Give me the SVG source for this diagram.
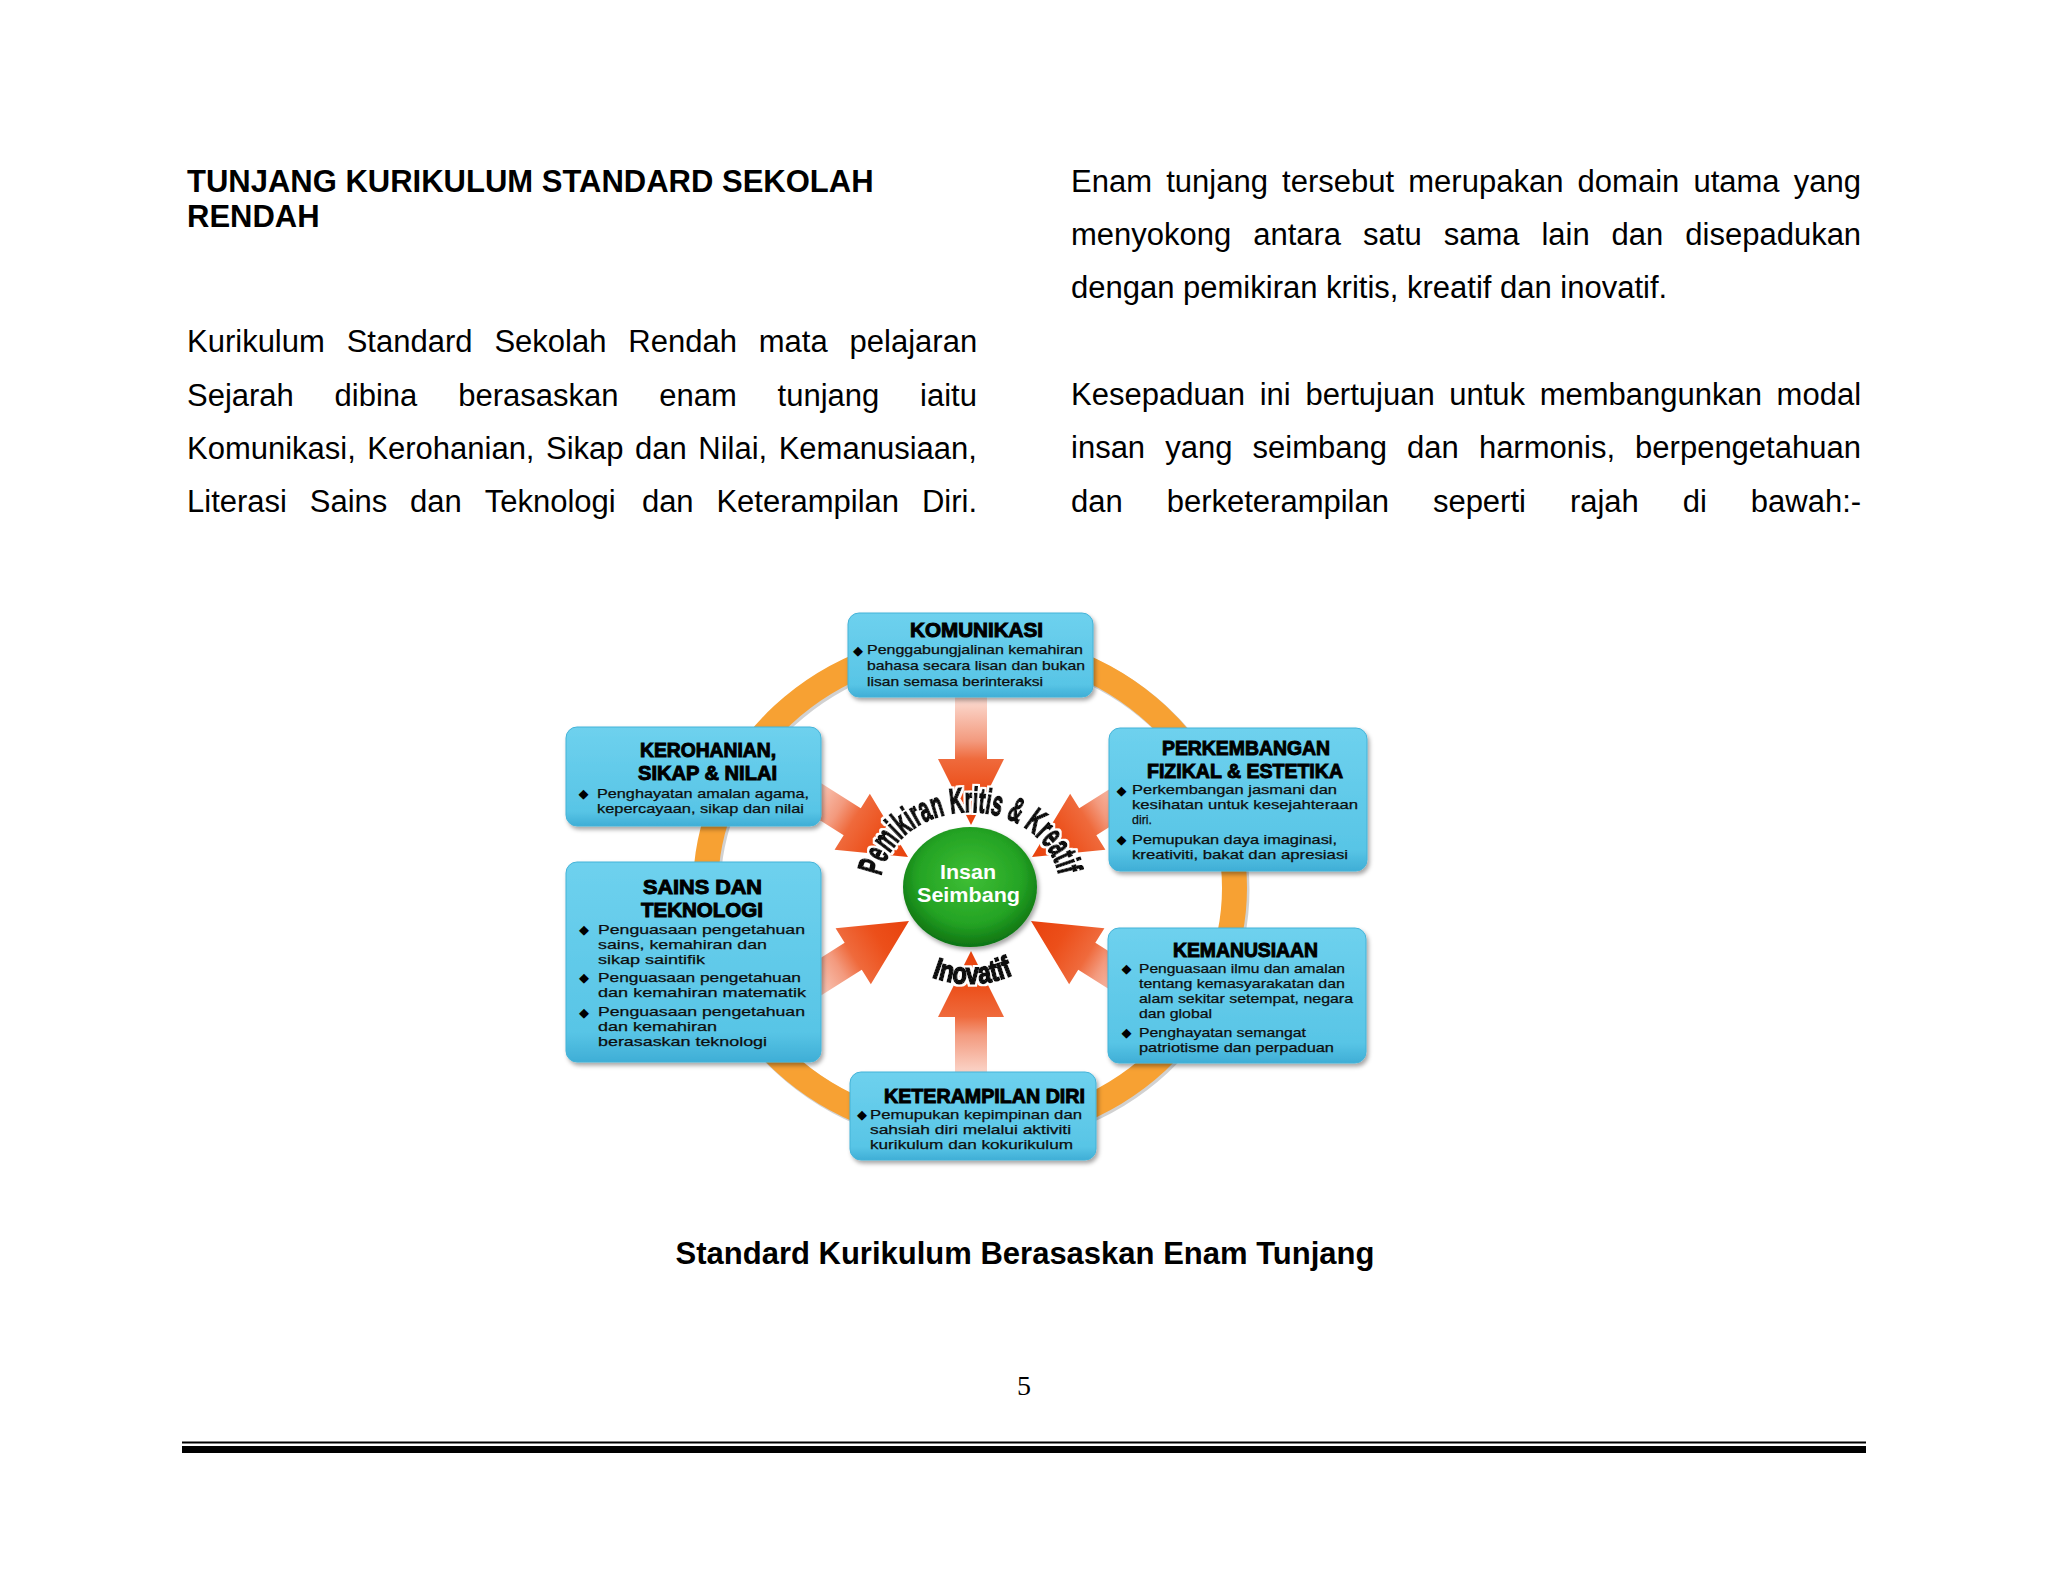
<svg xmlns="http://www.w3.org/2000/svg" xmlns:xlink="http://www.w3.org/1999/xlink" width="2048" height="1582" viewBox="0 0 2048 1582">
<defs>
<style>
.body{font-family:'Liberation Sans',Arial,sans-serif;font-size:31px;fill:#000}
.bold{font-weight:bold}
.bt{font-family:'Liberation Sans',Arial,sans-serif;font-size:13px;fill:#0d0d0d;stroke:#0d0d0d;stroke-width:0.25px}
.tt{font-family:'Liberation Sans',Arial,sans-serif;font-weight:bold;font-size:20.5px;fill:#000;stroke:#000;stroke-width:1px;text-anchor:middle}
.bl{font-family:'DejaVu Sans',sans-serif;font-size:13px;fill:#000}
.box{fill:url(#boxg);stroke:#45b3d8;stroke-width:1;filter:url(#sh)}
.arrow{fill:url(#arrg)}
.arc{font-family:'Liberation Sans',Arial,sans-serif;font-weight:bold;fill:#111;stroke:#111;stroke-width:1.8px;filter:url(#halo)}
.ins{font-family:'Liberation Sans',Arial,sans-serif;font-weight:bold;font-size:20px;fill:#fff;text-anchor:middle}
</style>
<linearGradient id="boxg" x1="0" y1="0" x2="0" y2="1">
<stop offset="0" stop-color="#6ed1ee"/>
<stop offset="0.85" stop-color="#58c5e6"/>
<stop offset="1" stop-color="#3faed6"/>
</linearGradient>
<linearGradient id="arrg" gradientUnits="userSpaceOnUse" x1="-140" y1="0" x2="0" y2="0">
<stop offset="0" stop-color="#fde8e2"/>
<stop offset="0.15" stop-color="#fad0c3"/>
<stop offset="0.4" stop-color="#f39a7e"/>
<stop offset="0.53" stop-color="#ef6a3c"/>
<stop offset="0.75" stop-color="#ec4f1a"/>
<stop offset="1" stop-color="#e8420d"/>
</linearGradient>
<radialGradient id="greeng" cx="0.5" cy="0.42" r="0.6">
<stop offset="0" stop-color="#3fbf35"/>
<stop offset="0.65" stop-color="#24a324"/>
<stop offset="1" stop-color="#0c6e10"/>
</radialGradient>
<filter id="sh" x="-10%" y="-10%" width="125%" height="130%">
<feDropShadow dx="2" dy="3" stdDeviation="2" flood-color="#000" flood-opacity="0.35"/>
</filter>
<filter id="halo" x="-10%" y="-10%" width="120%" height="120%">
<feMorphology in="SourceAlpha" operator="dilate" radius="1.5" result="d"/>
<feFlood flood-color="#fff"/>
<feComposite in2="d" operator="in" result="w"/>
<feMerge><feMergeNode in="w"/><feMergeNode in="SourceGraphic"/></feMerge>
</filter>
<path id="arrowShape" d="M0,0 L-66,-33 L-66,-16 L-140,-16 L-140,16 L-66,16 L-66,33 Z"/>
<path id="arcTop" d="M880,888 A90,76 0 0 1 1060,888"/>
<path id="arcBot" d="M868,888 A102,96 0 0 0 1072,888"/>
</defs>
<rect width="2048" height="1582" fill="#fff"/>

<g id="heading">
<text class="body bold" x="187" y="192">TUNJANG KURIKULUM STANDARD SEKOLAH</text>
<text class="body bold" x="187" y="227">RENDAH</text>
</g>

<g id="left-paragraph" class="body">
<text y="352"><tspan x="187">Kurikulum </tspan><tspan x="346.7">Standard </tspan><tspan x="494.4">Sekolah </tspan><tspan x="628.3">Rendah </tspan><tspan x="758.8">mata </tspan><tspan x="849.6">pelajaran</tspan></text>
<text y="405.5"><tspan x="187">Sejarah </tspan><tspan x="334.6">dibina </tspan><tspan x="458.2">berasaskan </tspan><tspan x="659.2">enam </tspan><tspan x="777.6">tunjang </tspan><tspan x="920.1">iaitu</tspan></text>
<text y="458.8"><tspan x="187">Komunikasi, </tspan><tspan x="367.3">Kerohanian, </tspan><tspan x="546">Sikap </tspan><tspan x="635.1">dan </tspan><tspan x="698.3">Nilai, </tspan><tspan x="778.7">Kemanusiaan,</tspan></text>
<text y="512"><tspan x="187">Literasi </tspan><tspan x="309.8">Sains </tspan><tspan x="410.1">dan </tspan><tspan x="484.7">Teknologi </tspan><tspan x="641.9">dan </tspan><tspan x="716.4">Keterampilan </tspan><tspan x="921.9">Diri.</tspan></text>
</g>

<g id="right-paragraph" class="body">
<text y="192"><tspan x="1071">Enam </tspan><tspan x="1166.2">tunjang </tspan><tspan x="1282.1">tersebut </tspan><tspan x="1408.3">merupakan </tspan><tspan x="1577.6">domain </tspan><tspan x="1693.4">utama </tspan><tspan x="1793.7">yang</tspan></text>
<text y="245"><tspan x="1071">menyokong </tspan><tspan x="1253.2">antara </tspan><tspan x="1363.1">satu </tspan><tspan x="1443.7">sama </tspan><tspan x="1541.4">lain </tspan><tspan x="1611.6">dan </tspan><tspan x="1685.3">disepadukan</tspan></text>
<text x="1071" y="298">dengan pemikiran kritis, kreatif dan inovatif.</text>
<text y="405"><tspan x="1071">Kesepaduan </tspan><tspan x="1259.7">ini </tspan><tspan x="1305.4">bertujuan </tspan><tspan x="1449.2">untuk </tspan><tspan x="1539.7">membangunkan </tspan><tspan x="1776.6">modal</tspan></text>
<text y="458"><tspan x="1071">insan </tspan><tspan x="1165.2">yang </tspan><tspan x="1252.5">seimbang </tspan><tspan x="1407.1">dan </tspan><tspan x="1478.9">harmonis, </tspan><tspan x="1635.1">berpengetahuan</tspan></text>
<text y="512"><tspan x="1071">dan </tspan><tspan x="1166.7">berketerampilan </tspan><tspan x="1432.9">seperti </tspan><tspan x="1569.9">rajah </tspan><tspan x="1682.7">di </tspan><tspan x="1750.8">bawah:-</tspan></text>
</g>

<g id="ring">
<ellipse cx="972" cy="890" rx="264.5" ry="245" fill="none" stroke="#000" stroke-opacity="0.18" stroke-width="26"/>
<ellipse cx="970" cy="888" rx="264.5" ry="245" fill="none" stroke="#f7a133" stroke-width="25"/>
</g>

<g id="connectors">
<use href="#arrowShape" class="arrow" transform="translate(971,825) rotate(90)"/>
<use href="#arrowShape" class="arrow" transform="translate(971,951) rotate(-90)"/>
<use href="#arrowShape" class="arrow" transform="translate(908,857) rotate(32.3)"/>
<use href="#arrowShape" class="arrow" transform="translate(1032,857) rotate(147.7)"/>
<use href="#arrowShape" class="arrow" transform="translate(909,921) rotate(-32.3)"/>
<use href="#arrowShape" class="arrow" transform="translate(1031,921) rotate(-147.7)"/>
</g>

<g id="komunikasi">
<rect class="box" x="848" y="613" width="245" height="84" rx="11"/>
<text class="tt" x="976.5" y="637" font-size="23" textLength="133" lengthAdjust="spacingAndGlyphs">KOMUNIKASI</text>
<text class="bl" x="853" y="654.5">◆</text>
<text class="bt" x="867" y="654" textLength="216" lengthAdjust="spacingAndGlyphs">Penggabungjalinan kemahiran</text>
<text class="bt" x="867" y="670" textLength="218" lengthAdjust="spacingAndGlyphs">bahasa secara lisan dan bukan</text>
<text class="bt" x="867" y="686" textLength="176" lengthAdjust="spacingAndGlyphs">lisan semasa berinteraksi</text>
</g>

<g id="kerohanian">
<rect class="box" x="566" y="727" width="255" height="99" rx="11"/>
<text class="tt" x="708" y="757" textLength="136" lengthAdjust="spacingAndGlyphs">KEROHANIAN,</text>
<text class="tt" x="707.5" y="780" textLength="139" lengthAdjust="spacingAndGlyphs">SIKAP &amp; NILAI</text>
<text class="bl" x="578.5" y="797.5">◆</text>
<text class="bt" x="597" y="798" textLength="212" lengthAdjust="spacingAndGlyphs">Penghayatan amalan agama,</text>
<text class="bt" x="597" y="813" textLength="207" lengthAdjust="spacingAndGlyphs">kepercayaan, sikap dan nilai</text>
</g>

<g id="sains-teknologi">
<rect class="box" x="566" y="862" width="255" height="200" rx="11"/>
<text class="tt" x="702.5" y="894" textLength="119" lengthAdjust="spacingAndGlyphs">SAINS DAN</text>
<text class="tt" x="702" y="917" textLength="122" lengthAdjust="spacingAndGlyphs">TEKNOLOGI</text>
<text class="bl" x="579" y="934">◆</text>
<text class="bt" x="598" y="933.5" textLength="207" lengthAdjust="spacingAndGlyphs">Penguasaan pengetahuan</text>
<text class="bt" x="598" y="948.5" textLength="169" lengthAdjust="spacingAndGlyphs">sains, kemahiran dan</text>
<text class="bt" x="598" y="963.5" textLength="107" lengthAdjust="spacingAndGlyphs">sikap saintifik</text>
<text class="bl" x="579" y="981.5">◆</text>
<text class="bt" x="598" y="982" textLength="203" lengthAdjust="spacingAndGlyphs">Penguasaan pengetahuan</text>
<text class="bt" x="598" y="997" textLength="208" lengthAdjust="spacingAndGlyphs">dan kemahiran matematik</text>
<text class="bl" x="579" y="1016.5">◆</text>
<text class="bt" x="598" y="1016" textLength="207" lengthAdjust="spacingAndGlyphs">Penguasaan pengetahuan</text>
<text class="bt" x="598" y="1031" textLength="119" lengthAdjust="spacingAndGlyphs">dan kemahiran</text>
<text class="bt" x="598" y="1046" textLength="169" lengthAdjust="spacingAndGlyphs">berasaskan teknologi</text>
</g>

<g id="perkembangan">
<rect class="box" x="1109" y="728" width="258" height="143" rx="11"/>
<text class="tt" x="1246" y="755" textLength="168" lengthAdjust="spacingAndGlyphs">PERKEMBANGAN</text>
<text class="tt" x="1245" y="778" textLength="196" lengthAdjust="spacingAndGlyphs">FIZIKAL &amp; ESTETIKA</text>
<text class="bl" x="1116.5" y="794.5">◆</text>
<text class="bt" x="1132" y="794" textLength="205" lengthAdjust="spacingAndGlyphs">Perkembangan jasmani dan</text>
<text class="bt" x="1132" y="809" textLength="226" lengthAdjust="spacingAndGlyphs">kesihatan untuk kesejahteraan</text>
<text class="bt" x="1132" y="824" textLength="20" lengthAdjust="spacingAndGlyphs">diri.</text>
<text class="bl" x="1116.5" y="843.5">◆</text>
<text class="bt" x="1132" y="844" textLength="205" lengthAdjust="spacingAndGlyphs">Pemupukan daya imaginasi,</text>
<text class="bt" x="1132" y="859" textLength="216" lengthAdjust="spacingAndGlyphs">kreativiti, bakat dan apresiasi</text>
</g>

<g id="kemanusiaan">
<rect class="box" x="1108" y="928" width="258" height="135" rx="11"/>
<text class="tt" x="1245.5" y="957" font-size="23" textLength="145" lengthAdjust="spacingAndGlyphs">KEMANUSIAAN</text>
<text class="bl" x="1121.5" y="972.5">◆</text>
<text class="bt" x="1139" y="973" textLength="206" lengthAdjust="spacingAndGlyphs">Penguasaan ilmu dan amalan</text>
<text class="bt" x="1139" y="988" textLength="206" lengthAdjust="spacingAndGlyphs">tentang kemasyarakatan dan</text>
<text class="bt" x="1139" y="1003" textLength="214" lengthAdjust="spacingAndGlyphs">alam sekitar setempat, negara</text>
<text class="bt" x="1139" y="1018" textLength="73" lengthAdjust="spacingAndGlyphs">dan global</text>
<text class="bl" x="1121.5" y="1036.5">◆</text>
<text class="bt" x="1139" y="1036.5" textLength="167" lengthAdjust="spacingAndGlyphs">Penghayatan semangat</text>
<text class="bt" x="1139" y="1051.5" textLength="195" lengthAdjust="spacingAndGlyphs">patriotisme dan perpaduan</text>
</g>

<g id="keterampilan-diri">
<rect class="box" x="850" y="1072" width="246" height="88" rx="11"/>
<text class="tt" x="984.5" y="1103" font-size="22" textLength="201" lengthAdjust="spacingAndGlyphs">KETERAMPILAN DIRI</text>
<text class="bl" x="857" y="1119">◆</text>
<text class="bt" x="870" y="1118.5" textLength="212" lengthAdjust="spacingAndGlyphs">Pemupukan kepimpinan dan</text>
<text class="bt" x="870" y="1133.5" textLength="201" lengthAdjust="spacingAndGlyphs">sahsiah diri melalui aktiviti</text>
<text class="bt" x="870" y="1148.5" textLength="203" lengthAdjust="spacingAndGlyphs">kurikulum dan kokurikulum</text>
</g>

<g id="insan-seimbang">
<ellipse cx="970" cy="887" rx="67" ry="60" fill="url(#greeng)" filter="url(#sh)"/>
<text class="ins" x="968" y="878.5" textLength="56" lengthAdjust="spacingAndGlyphs">Insan</text>
<text class="ins" x="968.5" y="901.5" textLength="103" lengthAdjust="spacingAndGlyphs">Seimbang</text>
</g>

<g id="arc-labels">
<text class="arc" font-size="35"><textPath href="#arcTop" startOffset="12" textLength="236" lengthAdjust="spacingAndGlyphs">Pemikiran Kritis &amp; Kreatif</textPath></text>
<text class="arc" font-size="30"><textPath href="#arcBot" startOffset="116" textLength="84" lengthAdjust="spacingAndGlyphs">Inovatif</textPath></text>
</g>

<g id="caption">
<text class="body bold" x="1025" y="1264" text-anchor="middle">Standard Kurikulum Berasaskan Enam Tunjang</text>
</g>

<g id="footer">
<text x="1024" y="1395" text-anchor="middle" font-family="'Liberation Serif','Times New Roman',serif" font-size="28" fill="#000">5</text>
<rect x="182" y="1441.5" width="1684" height="2" fill="#000"/>
<rect x="182" y="1446" width="1684" height="7" fill="#000"/>
</g>
</svg>
